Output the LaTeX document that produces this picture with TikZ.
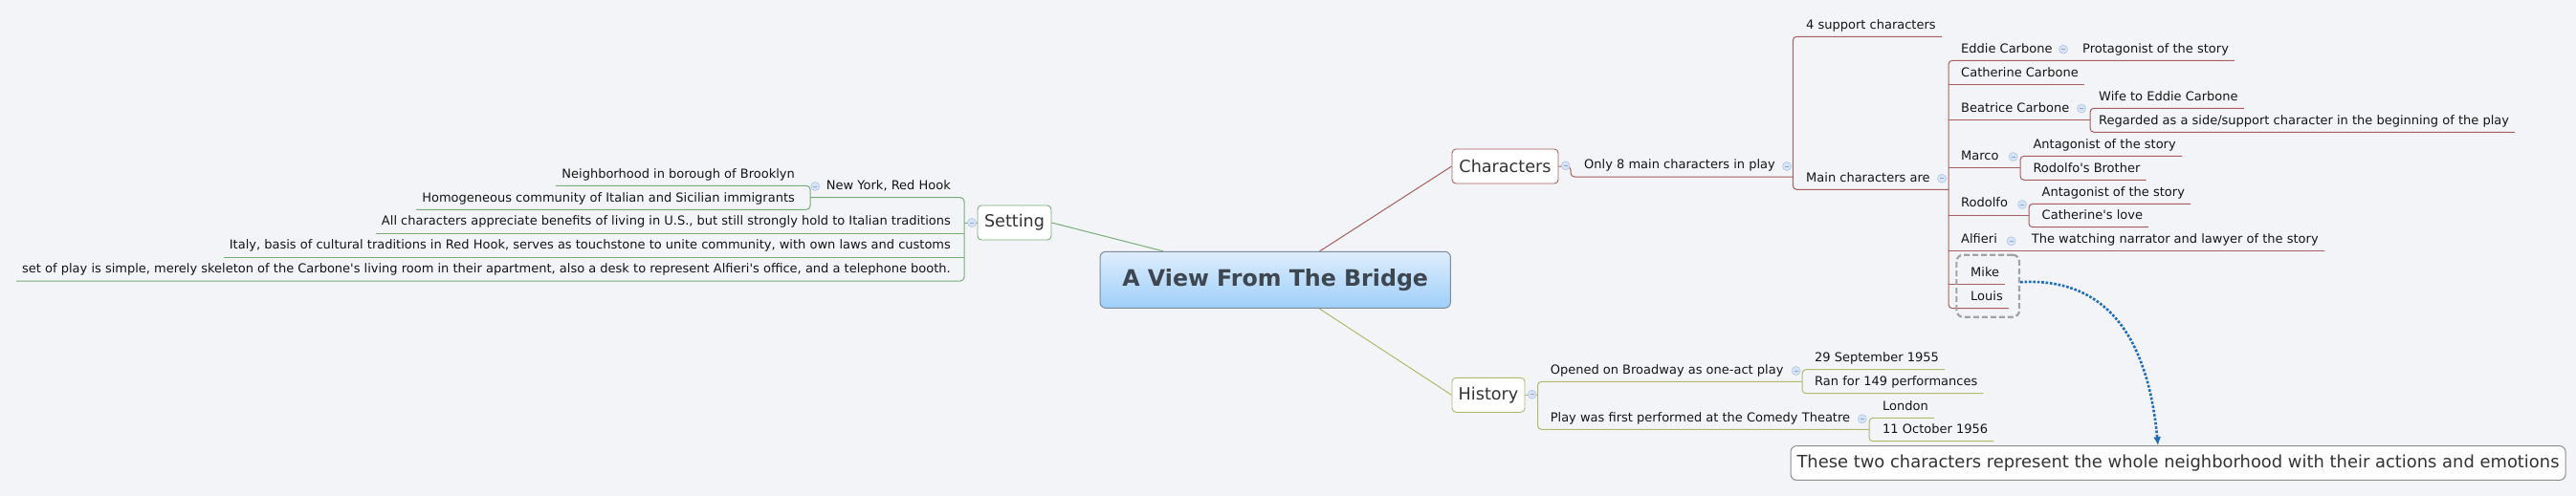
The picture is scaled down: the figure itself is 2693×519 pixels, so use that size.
\documentclass[tikz,border=0pt]{standalone}
\usepackage{fontspec}
\setmainfont{DejaVu Sans}[Ligatures=TeXOff]
\usetikzlibrary{arrows.meta}
\definecolor{bg}{HTML}{F3F4F7}
\definecolor{setc}{HTML}{78AC78}
\definecolor{chc}{HTML}{A65E5E}
\definecolor{hic}{HTML}{B2B86C}
\definecolor{circf}{HTML}{D6E4F5}
\definecolor{circd}{HTML}{AFC7E6}
\definecolor{circm}{HTML}{8FAAD0}
\definecolor{leaftxt}{HTML}{151515}
\definecolor{topictxt}{HTML}{333333}
\definecolor{roottxt}{HTML}{3E4750}
\definecolor{rootborder}{HTML}{7C8B99}
\definecolor{roottop}{HTML}{DEEDFB}
\definecolor{rootbot}{HTML}{9ECFFA}
\definecolor{arrc}{HTML}{1C6DC2}
\definecolor{grpc}{HTML}{A3A3A3}
\definecolor{notec}{HTML}{8C8C8C}
\newcommand\leaffont{\fontsize{13}{15}\selectfont}
\newcommand\topicfont{\fontsize{17.6}{20}\selectfont}
\newcommand\notefont{\fontsize{17.9}{20}\selectfont}
\newcommand\rootfont{\fontsize{23.7}{28}\selectfont\bfseries}
\tikzset{
  leafR/.style={anchor=south west, inner xsep=6pt, inner ysep=0pt, text depth=8pt, font=\leaffont, text=leaftxt},
  leafL/.style={leafR, anchor=south east},
  topic/.style={draw, fill=white, rounded corners=4pt, font=\topicfont, text=topictxt, inner sep=0pt, minimum height=36pt, line width=0.9pt},
  circ/.style={circle, draw=circd, fill=circf, inner sep=0pt, minimum size=9pt, line width=0.6pt,
    path picture={\draw[circm, line width=0.8pt] ([xshift=-2pt]path picture bounding box.center) -- ([xshift=2pt]path picture bounding box.center);}},
  setl/.style={draw=setc, line width=1pt, rounded corners=4pt},
  chl/.style={draw=chc, line width=1pt, rounded corners=4pt},
  hil/.style={draw=hic, line width=1pt, rounded corners=4pt},
  grpbox/.style={draw=grpc, dash pattern=on 6pt off 3pt, line width=2.2pt, rounded corners=7pt, minimum width=65.7pt, minimum height=65pt, inner sep=0pt},
  notebox/.style={draw=notec, fill=white, rounded corners=6pt, line width=1pt, font=\notefont, text=topictxt, minimum width=810pt, minimum height=35.6pt, inner sep=0pt},
  relarrow/.style={draw=arrc, line width=2.6pt, dash pattern=on 2.6pt off 1.8pt, -{Latex[length=9pt,width=8pt]}}
}
\begin{document}
\begin{tikzpicture}[x=1pt,y=-1pt]
\fill[bg] (0,0) rectangle (2693,519);
\useasboundingbox (0,0) rectangle (2693,519);

% root and main topics
\node[draw=rootborder, line width=1pt, rounded corners=6pt, top color=roottop, bottom color=rootbot,
      minimum width=366.4pt, minimum height=59pt, inner sep=0pt, font=\rootfont, text=roottxt] (root) at (1333.2,292.8) {A View From The Bridge};
\node[topic, draw=setc, minimum width=77pt] (setting) at (1060.5,233) {Setting};
\node[topic, draw=chc, minimum width=111pt] (characters) at (1573.5,174) {Characters};
\node[topic, draw=hic, minimum width=76pt] (history) at (1556,413.3) {History};

% bracket x positions
\coordinate (sb0) at (1008,0);
\coordinate (sb1) at (847,0);
\coordinate (cb0) at (1642,0);
\coordinate (cb1) at (1874.3,0);
\coordinate (cb2) at (2037,0);
\coordinate (cbB) at (2185,0);
\coordinate (cbM) at (2112,0);
\coordinate (cbR) at (2121,0);
\coordinate (hb0) at (1607.5,0);
\coordinate (hb1) at (1884,0);
\coordinate (hb2) at (1954,0);

% Setting leaves
\node[leafL] (ny) at (1000,206.7) {New York, Red Hook};
\node[leafL] (nb) at (837,194.3) {Neighborhood in borough of Brooklyn};
\node[leafL] (homo) at (837,219.3) {Homogeneous community of Italian and Sicilian immigrants};
\node[leafL] (allc) at (1000,244) {All characters appreciate benefits of living in U.S., but still strongly hold to Italian traditions};
\node[leafL] (italy) at (1000,269) {Italy, basis of cultural traditions in Red Hook, serves as touchstone to unite community, with own laws and customs};
\node[leafL] (sop) at (1000,294) {set of play is simple, merely skeleton of the Carbone's living room in their apartment, also a desk to represent Alfieri's office, and a telephone booth.};

% Characters leaves
\node[leafR] (only8) at (1650,185) {Only 8 main characters in play};
\node[leafR] (sup) at (1882,38.3) {4 support characters};
\node[leafR] (main) at (1882,198.3) {Main characters are};
\node[leafR] (eddie) at (2044,63.3) {Eddie Carbone};
\node[leafR] (protag) at (2171,63.3) {Protagonist of the story};
\node[leafR] (cath) at (2044,88.3) {Catherine Carbone};
\node[leafR] (beat) at (2044,125.7) {Beatrice Carbone};
\node[leafR] (wife) at (2188,113.3) {Wife to Eddie Carbone};
\node[leafR] (reg) at (2188,138.3) {Regarded as a side/support character in the beginning of the play};
\node[leafR] (marco) at (2044,175.3) {Marco};
\node[leafR] (ant1) at (2119.3,163.3) {Antagonist of the story};
\node[leafR] (bro) at (2119.3,188.3) {Rodolfo's Brother};
\node[leafR] (rod) at (2044,225) {Rodolfo};
\node[leafR] (ant2) at (2128.5,213.3) {Antagonist of the story};
\node[leafR] (love) at (2128.5,237.7) {Catherine's love};
\node[leafR] (alf) at (2044,262.7) {Alfieri};
\node[leafR] (watch) at (2117.7,262.7) {The watching narrator and lawyer of the story};
\node[leafR] (mike) at (2054,297.7) {Mike};
\node[leafR] (louis) at (2054,322.7) {Louis};

% History leaves
\node[leafR] (opened) at (1614.6,399.3) {Opened on Broadway as one-act play};
\node[leafR] (play) at (1614.6,449.3) {Play was first performed at the Comedy Theatre};
\node[leafR] (sep) at (1891,386.7) {29 September 1955};
\node[leafR] (ran) at (1891,411.7) {Ran for 149 performances};
\node[leafR] (lon) at (1962,437.3) {London};
\node[leafR] (oct) at (1962,461.7) {11 October 1956};

% main connectors
\draw[draw=setc, line width=1pt] (root) -- (setting.east);
\draw[draw=chc, line width=1pt] (root) -- (characters.west);
\draw[draw=hic, line width=1pt] (root) -- (history.west);

% Setting branches
\draw[setl] (setting.west) -- (sb0 |- setting.west);
\draw[setl] (sb1 |- ny.south) -- (sb0 |- ny.south) -- (sb0 |- sop.south) -- (sop.south west);
\draw[setl] (sb0 |- allc.south) -- (allc.south west);
\draw[setl] (sb0 |- italy.south) -- (italy.south west);
\draw[setl] (nb.south west) -- (sb1 |- nb.south) -- (sb1 |- homo.south) -- (homo.south west);

% Characters branches
\draw[chl] (characters.east) -- (cb0 |- characters.east) -- (cb0 |- only8.south) -- (cb1 |- only8.south);
\draw[chl] (sup.south east) -- (cb1 |- sup.south) -- (cb1 |- main.south) -- (cb2 |- main.south);
\draw[chl] (protag.south east) -- (cb2 |- eddie.south) -- (cb2 |- louis.south) -- (louis.south east);
\draw[chl] (cb2 |- cath.south) -- (cath.south east);
\draw[chl] (cb2 |- beat.south) -- (cbB |- beat.south);
\draw[chl] (cb2 |- marco.south) -- (cbM |- marco.south);
\draw[chl] (cb2 |- rod.south) -- (cbR |- rod.south);
\draw[chl] (cb2 |- alf.south) -- (watch.south east);
\draw[chl] (cb2 |- mike.south) -- (mike.south east);
\draw[chl] (wife.south east) -- (cbB |- wife.south) -- (cbB |- reg.south) -- (reg.south east);
\draw[chl] (ant1.south east) -- (cbM |- ant1.south) -- (cbM |- bro.south) -- (bro.south east);
\draw[chl] (ant2.south east) -- (cbR |- ant2.south) -- (cbR |- love.south) -- (love.south east);

% History branches
\draw[hil] (history.east) -- (hb0 |- history.east);
\draw[hil] (hb1 |- opened.south) -- (hb0 |- opened.south) -- (hb0 |- play.south) -- (hb2 |- play.south);
\draw[hil] (sep.south east) -- (hb1 |- sep.south) -- (hb1 |- ran.south) -- (ran.south east);
\draw[hil] (lon.south east) -- (hb2 |- lon.south) -- (hb2 |- oct.south) -- (oct.south east);

% collapse markers
\node[circ] (cSet) at (1016,233) {};
\node[circ] (cNY) at (852.3,195) {};
\node[circ] (cCh) at (1636.6,173.3) {};
\node[circ] (cOnly) at (1868,174) {};
\node[circ] (cMain) at (2030,186.7) {};
\node[circ] (cEd) at (2157,51.7) {};
\node[circ] (cBe) at (2176,113.5) {};
\node[circ] (cMa) at (2104.7,164) {};
\node[circ] (cRo) at (2114,214) {};
\node[circ] (cAl) at (2102.6,252.3) {};
\node[circ] (cHi) at (1601.6,412.7) {};
\node[circ] (cOp) at (1877.6,388) {};
\node[circ] (cPl) at (1946.8,438.3) {};

% boundary and note
\node[grpbox] (grp) at (2078.2,299.2) {};
\node[notebox] (note) at (2277,484.5) {These two characters represent the whole neighborhood with their actions and emotions};
\draw[relarrow] ([yshift=4pt]grp.east) .. controls (2200,290) and (2245,350) .. ([xshift=-21pt]note.north);
\end{tikzpicture}
\end{document}
